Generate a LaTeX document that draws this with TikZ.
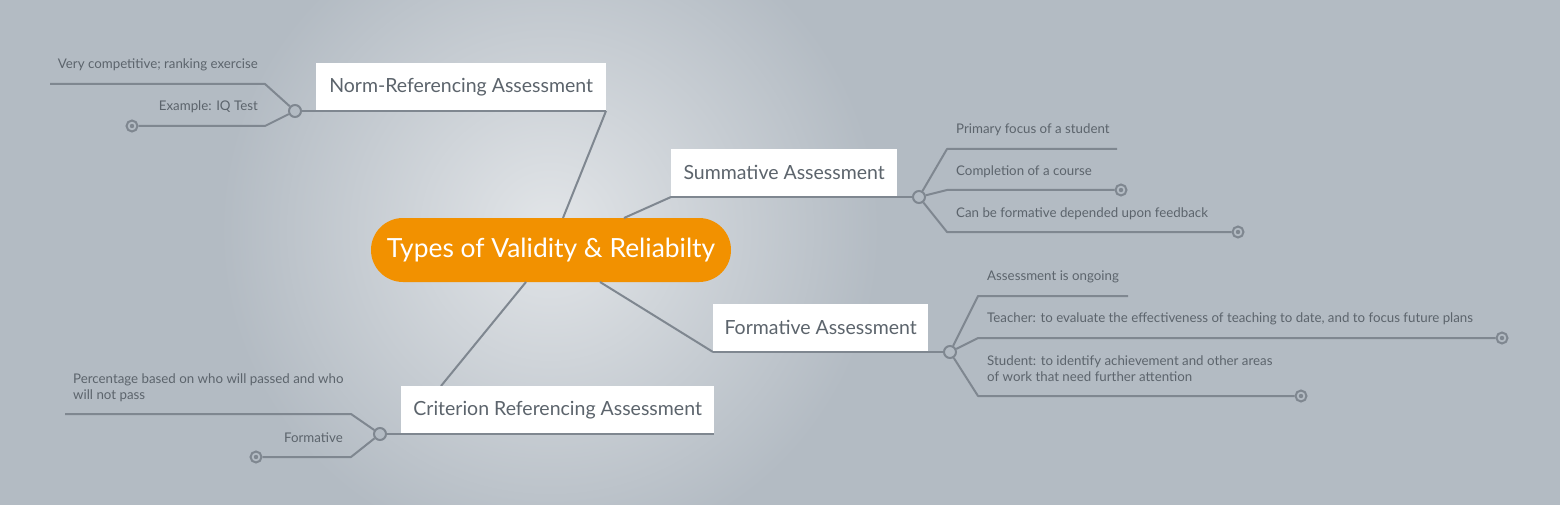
\documentclass[tikz,border=0pt]{standalone}
\usepackage{fontspec}
\setmainfont{Lato}
\begin{document}
\begin{tikzpicture}[x=1pt,y=-1pt,
  ln/.style={draw=lc,line width=2pt,line join=round},
  br/.style={fill=white,inner sep=0pt,minimum height=47pt,font=\fontsize{19.5}{22}\selectfont,text=tc,anchor=north west},
  lf/.style={font=\fontsize{13.3}{16}\selectfont,text=tc,inner sep=0pt},
  jn/.style={circle,draw=lc,line width=2pt,fill=bgc,minimum size=12pt,inner sep=0pt},
  tg/.style={circle,draw=lc,line width=2pt,fill=bgc,minimum size=11pt,inner sep=0pt,path picture={\fill[lc] (path picture bounding box.center) circle (2.2pt);}}]
\definecolor{lc}{HTML}{7F8790}
\definecolor{tc}{HTML}{5C646C}
\definecolor{bgc}{HTML}{B3BBC3}
\definecolor{org}{HTML}{F29100}
\useasboundingbox (0,0) rectangle (1560,505);
\fill[bgc] (0,0) rectangle (1560,505);
\begin{scope}
\clip (0,0) rectangle (1560,505);
\shade[inner color=white!62!bgc,outer color=bgc] (550,230) circle (330);
\end{scope}
% center
\node[fill=org,rounded corners=32pt,minimum width=360pt,minimum height=64pt,text=white,font=\fontsize{26.4}{30}\selectfont] (c) at (551,250) {Types of Validity \& Reliabilty};
% branches
\coordinate (nA) at (563,218); \coordinate (nB) at (606,111);
\coordinate (sA) at (624,218); \coordinate (sB) at (671,197);
\coordinate (fA) at (600,282); \coordinate (fB) at (713,352);
\coordinate (cA) at (526,282); \coordinate (cB) at (441,386);
\draw[ln] (nA) -- (nB); \draw[ln] (sA) -- (sB); \draw[ln] (fA) -- (fB); \draw[ln] (cA) -- (cB);
\node[br,minimum width=290pt] (nb) at (316,63) {Norm-Referencing Assessment};
\node[br,minimum width=226pt] (sb) at (671,149) {Summative Assessment};
\node[br,minimum width=215pt] (fb) at (713,304) {Formative Assessment};
\node[br,minimum width=313pt] (cbx) at (401,386) {Criterion Referencing Assessment};
% norm
\node[jn] (nj) at (295,111) {};
\draw[ln] (nB) -- (nj);
\coordinate (n1) at (50,84); \node[tg] (n2) at (132,126) {};
\draw[ln] (nj) -- (265,84) -- (n1);
\draw[ln] (nj) -- (265,126) -- (n2);
\node[lf,anchor=east] at (258,65) {Very competitive; ranking exercise};
\node[lf,anchor=east] at (258,107) {Example: IQ Test};
% summative
\node[jn] (sj) at (919,197) {};
\draw[ln] (sB) -- (sj);
\coordinate (s1) at (1117,149); \node[tg] (s2) at (1121,190) {}; \node[tg] (s3) at (1238,232) {};
\draw[ln] (sj) -- (947,149) -- (s1);
\draw[ln] (sj) -- (947,190) -- (s2);
\draw[ln] (sj) -- (947,232) -- (s3);
\node[lf,anchor=west] at (956,130) {Primary focus of a student};
\node[lf,anchor=west] at (956,172) {Completion of a course};
\node[lf,anchor=west] at (956,214) {Can be formative depended upon feedback};
% formative
\node[jn] (fj) at (950,352) {};
\draw[ln] (fB) -- (fj);
\coordinate (f1) at (1128,296); \node[tg] (f2) at (1502,338) {}; \node[tg] (f3) at (1301,396) {};
\draw[ln] (fj) -- (978,296) -- (f1);
\draw[ln] (fj) -- (978,338) -- (f2);
\draw[ln] (fj) -- (978,396) -- (f3);
\node[lf,anchor=west] at (987,277) {Assessment is ongoing};
\node[lf,anchor=west] at (987,319) {Teacher: to evaluate the effectiveness of teaching to date, and to focus future plans};
\node[lf,anchor=west,align=left] at (987,369) {Student: to identify achievement and other areas\\of work that need further attention};
% criterion
\node[jn] (cj) at (380,434) {};
\coordinate (cE) at (714,434);
\draw[ln] (cE) -- (cj);
\coordinate (c1) at (65,414); \node[tg] (c2) at (256,457) {};
\draw[ln] (cj) -- (351,414) -- (c1);
\draw[ln] (cj) -- (351,457) -- (c2);
\node[lf,anchor=west,align=left] at (73,388) {Percentage based on who will passed and who\\will not pass};
\node[lf,anchor=east] at (343,438) {Formative};
\end{tikzpicture}
\end{document}
